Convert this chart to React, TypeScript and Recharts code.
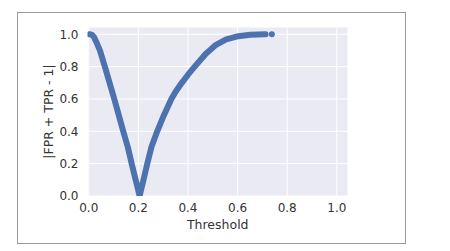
import React from 'react';
import {
    ComposedChart,
    Line,
    Scatter,
    XAxis,
    YAxis,
    CartesianGrid,
    Label,
} from 'recharts';

// threshold -> |FPR + TPR - 1|
const thresholds = [
    0.003, 0.012, 0.02, 0.03, 0.045, 0.065, 0.084, 0.103, 0.121, 0.139, 0.158, 0.173, 0.189, 0.198, 0.205,
    0.212, 0.22, 0.236, 0.253, 0.276, 0.303, 0.333, 0.35, 0.373, 0.4, 0.427, 0.472, 0.513, 0.554, 0.603,
    0.651, 0.713,
];
const scores = [
    1.0, 0.998, 0.985, 0.955, 0.9, 0.8, 0.7, 0.6, 0.5, 0.4, 0.3, 0.2, 0.1, 0.045, 0.0,
    0.045, 0.095, 0.2, 0.305, 0.4, 0.5, 0.6, 0.645, 0.695, 0.75, 0.8, 0.88, 0.935, 0.968, 0.988,
    0.997, 1.0,
];
// last lone point at the right end
const lastThreshold = [0.738];
const lastScore = [1.0];

const xTicks = [0, 0.2, 0.4, 0.6, 0.8, 1.0];
const yTicks = [0, 0.2, 0.4, 0.6, 0.8, 1.0];

const curve = thresholds.map((t, i) => ({ t, v: scores[i] }));
const tail = lastThreshold.map((t, i) => ({ t, v: lastScore[i] }));

const BLUE = '#4C72B0';
const TEXT = '#333';
const FONT = '"DejaVu Sans", sans-serif';

const fmt = (v: number) => v.toFixed(1);

export default function App() {
    return (
        <div style={{ position: 'absolute', left: 0, top: 0, width: 450, height: 251, background: '#fff' }}>
            <div
                style={{
                    position: 'absolute',
                    left: 17,
                    top: 12,
                    width: 387,
                    height: 230,
                    border: '1px solid #999',
                }}
            />
            <div style={{ position: 'absolute', left: 0, top: 0 }}>
                <ComposedChart
                    width={450}
                    height={251}
                    margin={{ top: 27, right: 102, bottom: 19, left: 37.5 }}
                    style={{ fontFamily: FONT }}
                >
                    <CartesianGrid stroke="#fff" strokeWidth={1} fill="#EAEAF2" />
                    <XAxis
                        type="number"
                        dataKey="t"
                        domain={[-0.005, 1.045]}
                        ticks={xTicks}
                        tickFormatter={fmt}
                        allowDataOverflow
                        axisLine={false}
                        tickLine={false}
                        tickSize={0}
                        tickMargin={7}
                        height={36}
                        tick={{ fill: TEXT, fontSize: 12 }}
                    >
                        <Label
                            value="Threshold"
                            position="insideBottom"
                            offset={3}
                            style={{ fill: TEXT, fontSize: 12.5 }}
                        />
                    </XAxis>
                    <YAxis
                        type="number"
                        dataKey="v"
                        domain={[0, 1.045]}
                        ticks={yTicks}
                        tickFormatter={fmt}
                        allowDataOverflow
                        axisLine={false}
                        tickLine={false}
                        tickSize={0}
                        tickMargin={9}
                        width={50}
                        tick={{ fill: TEXT, fontSize: 12 }}
                    >
                        <Label
                            value="|FPR + TPR - 1|"
                            angle={-90}
                            position="insideLeft"
                            offset={11.5}
                            style={{ fill: TEXT, fontSize: 12.5, textAnchor: 'middle' }}
                        />
                    </YAxis>
                    <Line
                        data={curve}
                        dataKey="v"
                        type="linear"
                        stroke={BLUE}
                        strokeWidth={6}
                        strokeLinejoin="round"
                        strokeLinecap="round"
                        dot={false}
                        activeDot={false}
                        isAnimationActive={false}
                    />
                    <Scatter
                        data={tail}
                        dataKey="v"
                        fill={BLUE}
                        shape={(p: any) => <circle cx={p.cx} cy={p.cy} r={3} fill={BLUE} />}
                        isAnimationActive={false}
                    />
                </ComposedChart>
            </div>
        </div>
    );
}
